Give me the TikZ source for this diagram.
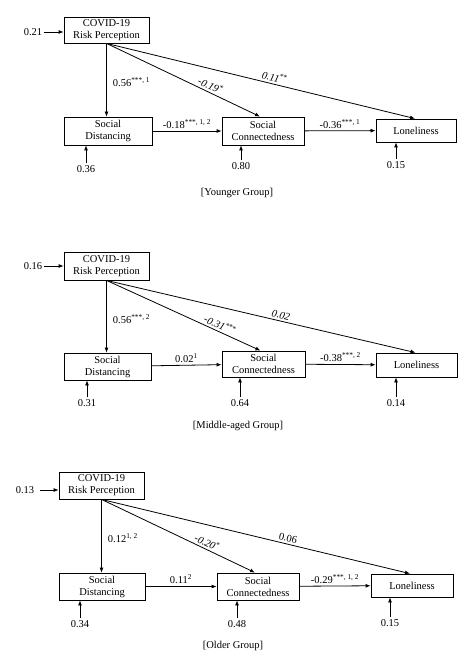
\documentclass[tikz,border=0pt]{standalone}
\usepackage{fontspec}
\setmainfont{Liberation Serif}
\usetikzlibrary{arrows.meta}

\tikzset{
  box/.style={draw, line width=0.8pt, align=center, inner sep=1pt},
  arr/.style={line width=0.8pt, -{Latex[length=5pt,width=4pt]}},
  lab/.style={font=\fontsize{10.5}{12}\selectfont, inner sep=2pt},
}

\begin{document}
\begin{tikzpicture}[x=1pt, y=-1pt, font=\fontsize{10.5}{12}\selectfont]
    \useasboundingbox (0,0) rectangle (474,668);

    % younger group
    \node[box, minimum width=85pt, minimum height=26pt] (cov1) at (106.5,30) {COVID-19\\Risk Perception};
    \node[box, minimum width=88pt, minimum height=28pt] (sd1) at (108,131) {Social\\Distancing};
    \node[box, minimum width=82pt, minimum height=28pt] (sc1) at (263,131) {Social\\Connectedness};
    \node[box, minimum width=80pt, minimum height=23pt] (lon1) at (416,130.5) {Loneliness};
    \node[lab] (e01) at (33,32) {0.21};
    \node[lab] (e11) at (86,169) {0.36};
    \node[lab] (e21) at (241,166) {0.80};
    \node[lab] (e31) at (396,165) {0.15};
    \node[lab] (g1) at (237,193) {[Younger Group]};
    \draw[arr] (e01.east) -- (e01.east -| cov1.west);
    \draw[arr] (cov1.south) -- (cov1.south |- sd1.north)
        node[lab, pos=0.53, right=4pt] {0.56\textsuperscript{***, 1}};
    \draw[arr] (cov1.south) -- ([xshift=-3pt]sc1.north)
        node[lab, pos=0.66, sloped, above] {\textit{-0.19}\textsuperscript{*}};
    \draw[arr] (cov1.south) -- ([xshift=-1pt]lon1.north)
        node[lab, pos=0.54, sloped, above] {\textit{0.11}\textsuperscript{**}};
    \draw[arr] (sd1) -- (sc1) node[lab, midway, above] {-0.18\textsuperscript{***, 1, 2}};
    \draw[arr] (sc1) -- (lon1) node[lab, midway, above] {-0.36\textsuperscript{***, 1}};
    \draw[arr] (e11.north) -- (e11.north |- sd1.south);
    \draw[arr] (e21.north) -- (e21.north |- sc1.south);
    \draw[arr] (e31.north) -- (e31.north |- lon1.south);

    % middle-aged group
    \node[box, minimum width=85pt, minimum height=28pt] (cov2) at (106.5,266) {COVID-19\\Risk Perception};
    \node[box, minimum width=87pt, minimum height=27pt] (sd2) at (107.5,366.5) {Social\\Distancing};
    \node[box, minimum width=83pt, minimum height=26pt] (sc2) at (263.5,364) {Social\\Connectedness};
    \node[box, minimum width=81pt, minimum height=24pt] (lon2) at (416.5,365) {Loneliness};
    \node[lab] (e02) at (33,266) {0.16};
    \node[lab] (e12) at (87,403) {0.31};
    \node[lab] (e22) at (240,403) {0.64};
    \node[lab] (e32) at (396,403) {0.14};
    \node[lab] (g2) at (238,426) {[Middle-aged Group]};
    \draw[arr] (e02.east) -- (e02.east -| cov2.west);
    \draw[arr] (cov2.south) -- (cov2.south |- sd2.north)
        node[lab, pos=0.53, right=4pt] {0.56\textsuperscript{***, 2}};
    \draw[arr] (cov2.south) -- ([xshift=-3pt]sc2.north)
        node[lab, pos=0.72, sloped, above] {\textit{-0.31}\textsuperscript{***}};
    \draw[arr] (cov2.south) -- ([xshift=-1pt]lon2.north)
        node[lab, pos=0.56, sloped, above] {\textit{0.02}};
    \draw[arr] (sd2) -- (sc2) node[lab, midway, above] {0.02\textsuperscript{1}};
    \draw[arr] (sc2) -- (lon2) node[lab, midway, above] {-0.38\textsuperscript{***, 2}};
    \draw[arr] (e12.north) -- (e12.north |- sd2.south);
    \draw[arr] (e22.north) -- (e22.north |- sc2.south);
    \draw[arr] (e32.north) -- (e32.north |- lon2.south);

    % older group
    \node[box, minimum width=85pt, minimum height=27pt] (cov3) at (101.5,485.5) {COVID-19\\Risk Perception};
    \node[box, minimum width=86pt, minimum height=27pt] (sd3) at (102,586.5) {Social\\Distancing};
    \node[box, minimum width=82pt, minimum height=27pt] (sc3) at (258,586.5) {Social\\Connectedness};
    \node[box, minimum width=82pt, minimum height=23pt] (lon3) at (412,585.5) {Loneliness};
    \node[lab] (e03) at (25,490) {0.13};
    \node[lab] (e13) at (80,624) {0.34};
    \node[lab] (e23) at (237,624) {0.48};
    \node[lab] (e33) at (390,623) {0.15};
    \node[lab] (g3) at (233,646) {[Older Group]};
    \draw[arr] ([xshift=4pt]e03.east) -- (e03.east -| cov3.west);
    \draw[arr] (cov3.south) -- (cov3.south |- sd3.north)
        node[lab, pos=0.53, right=4pt] {0.12\textsuperscript{1, 2}};
    \draw[arr] (cov3.south) -- ([xshift=-3pt]sc3.north)
        node[lab, pos=0.67, sloped, above] {\textit{-0.20}\textsuperscript{*}};
    \draw[arr] (cov3.south) -- ([xshift=-2pt]lon3.north)
        node[lab, pos=0.6, sloped, above] {0.06};
    \draw[arr] (sd3) -- (sc3) node[lab, midway, above] {0.11\textsuperscript{2}};
    \draw[arr] (sc3) -- (lon3) node[lab, midway, above] {-0.29\textsuperscript{***, 1, 2}};
    \draw[arr] (e13.north) -- (e13.north |- sd3.south);
    \draw[arr] (e23.north) -- (e23.north |- sc3.south);
    \draw[arr] (e33.north) -- (e33.north |- lon3.south);
\end{tikzpicture}
\end{document}
